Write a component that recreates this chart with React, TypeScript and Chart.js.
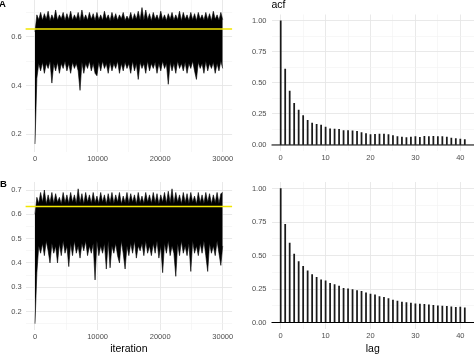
import React, { useEffect, useRef } from 'react';
import { Chart, registerables } from 'chart.js';

Chart.register(...registerables);

// ---------------- data ----------------
// Trace plots: envelope (upper / lower extremes) of the MCMC draws per bin of iterations
const binWidth = 300; // iterations per bin

const traceAHigh = [0.62,
  0.69, 0.67, 0.70, 0.668, 0.695, 0.672, 0.705, 0.666, 0.69, 0.67,
  0.71, 0.668, 0.69, 0.674, 0.70, 0.667, 0.695, 0.67, 0.705, 0.668,
  0.69, 0.672, 0.70, 0.666, 0.71, 0.67, 0.69, 0.668, 0.70, 0.672,
  0.695, 0.667, 0.70, 0.67, 0.69, 0.668, 0.705, 0.672, 0.69, 0.666,
  0.70, 0.67, 0.695, 0.668, 0.69, 0.674, 0.70, 0.667, 0.685, 0.67,
  0.70, 0.668, 0.695, 0.672, 0.705, 0.67, 0.72, 0.668, 0.71, 0.67,
  0.695, 0.666, 0.70, 0.672, 0.69, 0.668, 0.705, 0.67, 0.69, 0.667,
  0.695, 0.672, 0.70, 0.668, 0.69, 0.67, 0.705, 0.666, 0.70, 0.672,
  0.69, 0.668, 0.70, 0.67, 0.695, 0.667, 0.70, 0.672, 0.69, 0.668,
  0.70, 0.67, 0.695, 0.666, 0.705, 0.672, 0.69, 0.668, 0.70, 0.67];

const traceALow = [0.16,
  0.43, 0.49, 0.46, 0.495, 0.45, 0.49, 0.47, 0.50, 0.41, 0.49,
  0.46, 0.495, 0.45, 0.49, 0.47, 0.50, 0.46, 0.49, 0.45, 0.495,
  0.47, 0.49, 0.46, 0.38, 0.495, 0.45, 0.49, 0.47, 0.50, 0.46,
  0.49, 0.45, 0.44, 0.495, 0.46, 0.50, 0.47, 0.49, 0.45, 0.495,
  0.46, 0.49, 0.47, 0.50, 0.45, 0.49, 0.46, 0.495, 0.47, 0.49,
  0.45, 0.50, 0.46, 0.49, 0.425, 0.495, 0.47, 0.49, 0.45, 0.50,
  0.46, 0.49, 0.47, 0.495, 0.45, 0.49, 0.46, 0.50, 0.47, 0.49,
  0.405, 0.495, 0.46, 0.49, 0.45, 0.50, 0.47, 0.49, 0.46, 0.495,
  0.45, 0.49, 0.47, 0.50, 0.46, 0.425, 0.495, 0.47, 0.49, 0.45,
  0.50, 0.46, 0.49, 0.47, 0.495, 0.45, 0.49, 0.46, 0.50, 0.47];

const traceBHigh = [0.60,
  0.67, 0.645, 0.69, 0.65, 0.70, 0.642, 0.68, 0.648, 0.69, 0.645,
  0.685, 0.65, 0.67, 0.643, 0.69, 0.648, 0.68, 0.645, 0.69, 0.65,
  0.68, 0.645, 0.705, 0.648, 0.685, 0.642, 0.69, 0.65, 0.68, 0.645,
  0.69, 0.648, 0.675, 0.645, 0.69, 0.65, 0.68, 0.643, 0.685, 0.648,
  0.69, 0.645, 0.68, 0.65, 0.69, 0.642, 0.675, 0.648, 0.69, 0.645,
  0.685, 0.65, 0.68, 0.643, 0.69, 0.648, 0.675, 0.645, 0.69, 0.65,
  0.68, 0.645, 0.69, 0.648, 0.685, 0.642, 0.68, 0.65, 0.69, 0.645,
  0.695, 0.648, 0.705, 0.645, 0.69, 0.65, 0.68, 0.643, 0.69, 0.648,
  0.685, 0.645, 0.69, 0.65, 0.675, 0.642, 0.69, 0.648, 0.68, 0.645,
  0.69, 0.65, 0.685, 0.643, 0.68, 0.648, 0.69, 0.645, 0.685, 0.69];

const traceBLow = [0.15,
  0.36, 0.47, 0.44, 0.48, 0.43, 0.49, 0.45, 0.40, 0.48, 0.44,
  0.47, 0.40, 0.48, 0.43, 0.49, 0.44, 0.47, 0.385, 0.48, 0.43,
  0.49, 0.44, 0.47, 0.42, 0.48, 0.45, 0.49, 0.43, 0.47, 0.44,
  0.48, 0.33, 0.49, 0.43, 0.47, 0.44, 0.48, 0.375, 0.49, 0.38,
  0.47, 0.44, 0.48, 0.43, 0.40, 0.49, 0.44, 0.375, 0.47, 0.43,
  0.48, 0.44, 0.49, 0.42, 0.47, 0.45, 0.48, 0.43, 0.49, 0.44,
  0.47, 0.43, 0.48, 0.44, 0.49, 0.42, 0.47, 0.36, 0.48, 0.44,
  0.49, 0.43, 0.47, 0.44, 0.345, 0.48, 0.43, 0.49, 0.44, 0.47,
  0.43, 0.48, 0.365, 0.49, 0.44, 0.47, 0.43, 0.48, 0.44, 0.49,
  0.43, 0.365, 0.48, 0.44, 0.47, 0.43, 0.49, 0.44, 0.39, 0.47];

const targetValue = 0.632; // yellow reference line

const lags = [0, 1, 2, 3, 4, 5, 6, 7, 8, 9, 10, 11, 12, 13, 14, 15, 16, 17, 18, 19, 20,
  21, 22, 23, 24, 25, 26, 27, 28, 29, 30, 31, 32, 33, 34, 35, 36, 37, 38, 39, 40, 41];

const acfA = [1.0, 0.611, 0.434, 0.335, 0.281, 0.236, 0.198, 0.177, 0.166, 0.161, 0.145,
  0.131, 0.129, 0.126, 0.115, 0.115, 0.113, 0.110, 0.099, 0.091, 0.083,
  0.086, 0.088, 0.088, 0.083, 0.075, 0.067, 0.064, 0.059, 0.064, 0.067,
  0.062, 0.070, 0.067, 0.070, 0.067, 0.067, 0.064, 0.056, 0.051, 0.048, 0.043];

const acfB = [1.0, 0.734, 0.594, 0.511, 0.456, 0.419, 0.386, 0.358, 0.338, 0.318, 0.311,
  0.293, 0.283, 0.273, 0.256, 0.251, 0.246, 0.238, 0.233, 0.221, 0.213,
  0.206, 0.193, 0.188, 0.178, 0.168, 0.160, 0.153, 0.148, 0.145, 0.140,
  0.138, 0.135, 0.133, 0.128, 0.125, 0.123, 0.120, 0.118, 0.113, 0.115, 0.110];

// tick values
const iterTicks = [0, 5000, 10000, 15000, 20000, 25000, 30000];
const iterMajors = [0, 10000, 20000, 30000];
const traceAYTicks = [0.2, 0.3, 0.4, 0.5, 0.6, 0.7];
const traceAYMajors = [0.2, 0.4, 0.6];
const traceBYTicks = [0.15, 0.2, 0.25, 0.3, 0.35, 0.4, 0.45, 0.5, 0.55, 0.6, 0.65, 0.7];
const traceBYMajors = [0.2, 0.3, 0.4, 0.5, 0.6, 0.7];
const lagTicks = [0, 5, 10, 15, 20, 25, 30, 35, 40];
const lagMajors = [0, 10, 20, 30, 40];
const acfYTicks = [0, 0.125, 0.25, 0.375, 0.5, 0.625, 0.75, 0.875, 1];
const acfYMajors = [0, 0.25, 0.5, 0.75, 1];

// ---------------- styling ----------------
const FONT = '"Liberation Sans", Arial, Helvetica, sans-serif';
const TICK_COLOR = '#4d4d4d';
const MAJOR_GRID = '#e6e6e6';
const MINOR_GRID = '#f1f1f1';
const YELLOW = '#f2e600';

type AxisSpec = {
  min: number; max: number; ticks: number[]; majors: number[];
  fmt: (v: number) => string; size: number; horizontal: boolean; pad: number; title?: string;
};

function makeAxis(s: AxisSpec): any {
  const isMajor = (v: number) => s.majors.some((m) => Math.abs(m - v) < 1e-9);
  return {
    type: 'linear',
    min: s.min,
    max: s.max,
    offset: false,
    border: { display: false },
    grid: {
      drawTicks: false,
      offset: false,
      color: (ctx: any) => (ctx.tick && isMajor(ctx.tick.value) ? MAJOR_GRID : MINOR_GRID),
      lineWidth: (ctx: any) => (ctx.tick && isMajor(ctx.tick.value) ? 0.9 : 0.6),
    },
    ticks: {
      autoSkip: false,
      maxRotation: 0,
      minRotation: 0,
      padding: s.pad,
      color: TICK_COLOR,
      font: { family: FONT, size: 7.5 },
      callback: (v: any) => (isMajor(Number(v)) ? s.fmt(Number(v)) : ''),
    },
    title: s.title
      ? { display: true, text: s.title, color: '#000', font: { family: FONT, size: 10.5, lineHeight: 1 }, padding: 0 }
      : { display: false },
    afterBuildTicks: (scale: any) => {
      scale.ticks = s.ticks.map((v) => ({ value: v }));
    },
    afterFit: (scale: any) => {
      if (s.horizontal) scale.height = s.size;
      else scale.width = s.size;
      scale.paddingLeft = 0;
      scale.paddingRight = 0;
      scale.paddingTop = 0;
      scale.paddingBottom = 0;
    },
  };
}

const hlinePlugin = {
  id: 'hline',
  afterDatasetsDraw(chart: any, _args: any, opts: any) {
    if (!opts || !opts.lines) return;
    const { ctx, chartArea, scales } = chart;
    for (const l of opts.lines) {
      const y = scales.y.getPixelForValue(l.value);
      ctx.save();
      ctx.strokeStyle = l.color;
      ctx.lineWidth = l.width;
      ctx.beginPath();
      ctx.moveTo(chartArea.left, y);
      ctx.lineTo(chartArea.right, y);
      ctx.stroke();
      ctx.restore();
    }
  },
};

const fmtInt = (v: number) => String(Math.round(v));
const fmt1 = (v: number) => v.toFixed(1);
const fmt2 = (v: number) => v.toFixed(2);

function traceConfig(high: number[], low: number[], yMin: number, yMax: number, yTicks: number[], yMajors: number[],
  padTop: number, xHeight: number, xTitle?: string): any {
  const hi = high.map((y, i) => ({ x: i * binWidth, y }));
  const lo = low.map((y, i) => ({ x: i * binWidth, y }));
  return {
    type: 'line',
    data: {
      datasets: [
        { data: hi, borderColor: '#000', borderWidth: 0.6, pointRadius: 0, fill: false, tension: 0 },
        { data: lo, borderColor: '#000', borderWidth: 0.6, pointRadius: 0, fill: '-1', backgroundColor: '#000', tension: 0 },
      ],
    },
    options: {
      responsive: false,
      animation: false,
      devicePixelRatio: 1,
      events: [],
      layout: { padding: { top: padTop, right: 4.9, left: 0, bottom: 0 } },
      plugins: {
        legend: { display: false },
        tooltip: { enabled: false },
        hline: { lines: [{ value: targetValue, color: YELLOW, width: 1.6 }] },
      },
      scales: {
        x: makeAxis({ min: -1500, max: 31500, ticks: iterTicks, majors: iterMajors, fmt: fmtInt, size: xHeight, horizontal: true, pad: 2, title: xTitle }),
        y: makeAxis({ min: yMin, max: yMax, ticks: yTicks, majors: yMajors, fmt: fmt1, size: 25.6, horizontal: false, pad: 4 }),
      },
    },
    plugins: [hlinePlugin],
  };
}

function acfConfig(values: number[], padTop: number, xHeight: number, showTitle: boolean, xTitle?: string): any {
  return {
    type: 'bar',
    data: {
      datasets: [
        {
          data: lags.map((l, i) => ({ x: l, y: values[i] })),
          backgroundColor: '#1a1a1a',
          borderWidth: 0,
          barThickness: 1.1,
        },
      ],
    },
    options: {
      responsive: false,
      animation: false,
      devicePixelRatio: 1,
      events: [],
      layout: { padding: { top: padTop, right: 0, left: 0, bottom: 0 } },
      plugins: {
        legend: { display: false },
        tooltip: { enabled: false },
        title: showTitle
          ? {
              display: true, text: 'acf', align: 'start', fullSize: false, color: '#000',
              font: { family: FONT, size: 10.5, weight: 'normal', lineHeight: 1 },
              padding: { top: 0, bottom: 4 },
            }
          : { display: false },
        hline: { lines: [{ value: 0, color: '#000', width: 1 }] },
      },
      scales: {
        x: makeAxis({ min: -2.05, max: 43.05, ticks: lagTicks, majors: lagMajors, fmt: fmtInt, size: xHeight, horizontal: true, pad: 2, title: xTitle }),
        y: makeAxis({ min: -0.05, max: 1.05, ticks: acfYTicks, majors: acfYMajors, fmt: fmt2, size: 34.5, horizontal: false, pad: 5 }),
      },
    },
    plugins: [hlinePlugin],
  };
}

function ChartPanel(props: { left: number; top: number; width: number; height: number; build: () => any }) {
  const ref = useRef<HTMLCanvasElement | null>(null);
  useEffect(() => {
    const chart = new Chart(ref.current as HTMLCanvasElement, props.build());
    return () => chart.destroy();
  }, []);
  const { left, top, width, height } = props;
  return (
    <canvas
      ref={ref}
      width={width}
      height={height}
      style={{ position: 'absolute', left, top, width, height, display: 'block' }}
    />
  );
}

const tagStyle: React.CSSProperties = {
  position: 'absolute',
  fontFamily: FONT,
  fontWeight: 'bold',
  fontSize: 9.5,
  lineHeight: 1,
  color: '#000',
};

export default function App() {
  return (
    <div style={{ position: 'absolute', left: 0, top: 0, width: 474, height: 354, background: '#fff', overflow: 'hidden' }}>
      <ChartPanel left={0} top={0} width={237} height={175}
        build={() => traceConfig(traceAHigh, traceALow, 0.127, 0.751, traceAYTicks, traceAYMajors, 0, 23)} />
      <ChartPanel left={237} top={0} width={237} height={175}
        build={() => acfConfig(acfA, 0, 23.8, true)} />
      <ChartPanel left={0} top={175} width={237} height={179}
        build={() => traceConfig(traceBHigh, traceBLow, 0.123, 0.733, traceBYTicks, traceBYMajors, 7, 23.7, 'iteration')} />
      <ChartPanel left={237} top={175} width={237} height={179}
        build={() => acfConfig(acfB, 7, 24.8, false, 'lag')} />
      <div style={{ ...tagStyle, left: -1, top: -1 }}>A</div>
      <div style={{ ...tagStyle, left: 0, top: 179 }}>B</div>
    </div>
  );
}
